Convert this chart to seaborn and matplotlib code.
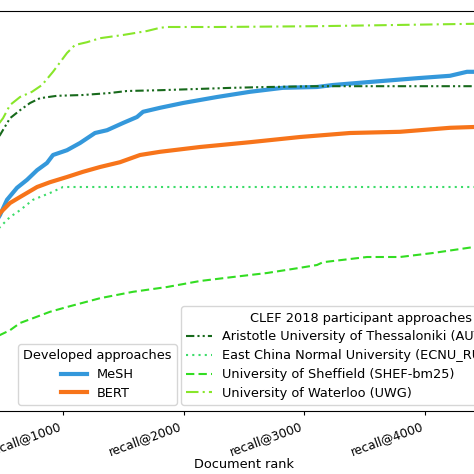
import matplotlib
matplotlib.use("Agg")
import matplotlib.pyplot as plt
import seaborn as sns
from matplotlib.lines import Line2D

# Developed approaches
mesh_rank = [300, 478, 536, 619, 702, 785, 867, 917, 1033, 1141, 1265, 1365, 1497, 1613, 1663,
             1804, 1994, 2276, 2549, 2823, 3104, 3237, 3519, 3933, 4206, 4347, 4405, 4600]
mesh_recall = [0.70, 0.745, 0.764, 0.779, 0.789, 0.801, 0.81, 0.82, 0.826, 0.835, 0.8475, 0.851, 0.86,
               0.8675, 0.874, 0.879, 0.885, 0.8925, 0.899, 0.904, 0.905, 0.9075, 0.911, 0.916, 0.919,
               0.924, 0.924, 0.926]

bert_rank = [300, 478, 561, 644, 785, 892, 1033, 1166, 1307, 1472, 1638, 1804, 2135, 2549, 2964,
             3378, 3792, 4206, 4405, 4600]
bert_recall = [0.70, 0.7475, 0.76, 0.7675, 0.78, 0.786, 0.7925, 0.799, 0.805, 0.811, 0.82, 0.824,
               0.83, 0.836, 0.8425, 0.8475, 0.849, 0.854, 0.855, 0.857]

# CLEF 2018 participant approaches
auth_rank = [300, 478, 561, 644, 727, 809, 950, 1166, 1389, 1530, 1804, 2408, 2690, 3104, 4405, 4600]
auth_recall = [0.81, 0.845, 0.866, 0.876, 0.885, 0.891, 0.894, 0.895, 0.8975, 0.90, 0.901, 0.904,
               0.905, 0.906, 0.906, 0.906]

ecnu_rank = [300, 478, 561, 644, 751, 892, 1000, 4405, 4600]
ecnu_recall = [0.70, 0.73, 0.7425, 0.751, 0.764, 0.7725, 0.78, 0.78, 0.78]

shef_rank = [300, 478, 561, 644, 751, 892, 1033, 1307, 1580, 1862, 2135, 2408, 2690, 2964, 3104,
             3154, 3519, 3792, 4065, 4405, 4600]
shef_recall = [0.58, 0.595, 0.601, 0.61, 0.616, 0.624, 0.63, 0.641, 0.649, 0.655, 0.6625, 0.6675,
               0.6725, 0.679, 0.6825, 0.686, 0.6925, 0.6925, 0.6975, 0.705, 0.708]

uwg_rank = [300, 478, 503, 561, 644, 743, 826, 917, 1033, 1099, 1199, 1307, 1497, 1696, 1804, 1862,
            2276, 3104, 4405, 4600]
uwg_recall = [0.83, 0.861, 0.866, 0.8825, 0.8925, 0.899, 0.9075, 0.924, 0.9475, 0.9575, 0.961, 0.966,
              0.97, 0.975, 0.979, 0.98, 0.98, 0.981, 0.984, 0.984]

tick_pos = [1000, 2000, 3000, 4000]
tick_labels = ["recall@1000", "recall@2000", "recall@3000", "recall@4000"]

dev_labels = ["MeSH", "BERT"]
clef_labels = ["Aristotle University of Thessaloniki (AUTH-run-1)",
               "East China Normal University (ECNU_RUN1)",
               "University of Sheffield (SHEF-bm25)",
               "University of Waterloo (UWG)"]

fig = plt.figure(figsize=(4.74, 4.74), dpi=100)
# the original figure is cropped: the axes run past both sides of the picture
ax = fig.add_axes([-0.1217, 0.1329, 1.2732, 0.8439])

series = [
    (mesh_rank, mesh_recall, "#3498db", 3.0, None),
    (bert_rank, bert_recall, "#f7741a", 3.0, None),
    (auth_rank, auth_recall, "#17691b", 1.5, (4, 1.5, 1, 1.5, 1, 1.5)),
    (ecnu_rank, ecnu_recall, "#3ddc6a", 1.5, (1, 2)),
    (shef_rank, shef_recall, "#33dd22", 1.5, (4, 2)),
    (uwg_rank, uwg_recall, "#88e62a", 1.5, (6, 2, 1, 2)),
]
handles = []
for xs, ys, col, lw, dash in series:
    sns.lineplot(x=xs, y=ys, ax=ax, color=col, linewidth=lw, errorbar=None)
    line = ax.lines[-1]
    if dash is not None:
        line.set_dashes(dash)
    h = Line2D([], [], color=col, linewidth=lw)
    if dash is not None:
        h.set_dashes(dash)
    handles.append(h)

ax.set_xlim(0, 5000)
ax.set_ylim(0.5, 1.0)
ax.set_xticks(tick_pos)
ax.set_xticklabels(tick_labels, rotation=20, ha="right", fontsize=8.8)
ax.tick_params(axis="x", length=3, pad=3)
ax.set_xlabel("Document rank", fontsize=9.3, labelpad=0)

leg1 = ax.legend(handles[:2], dev_labels, title="Developed approaches", fontsize=9.3,
                 title_fontsize=9.3, loc="lower left", bbox_to_anchor=(18 / 474, 69 / 474),
                 bbox_transform=fig.transFigure, borderaxespad=0, labelspacing=0.45)
ax.add_artist(leg1)
ax.legend(handles[2:], clef_labels, title="CLEF 2018 participant approaches", fontsize=9.3,
          title_fontsize=9.3, loc="lower left", bbox_to_anchor=(181 / 474, 69 / 474),
          bbox_transform=fig.transFigure, borderaxespad=0, labelspacing=0.45)

fig.savefig("out.png", dpi=100)
